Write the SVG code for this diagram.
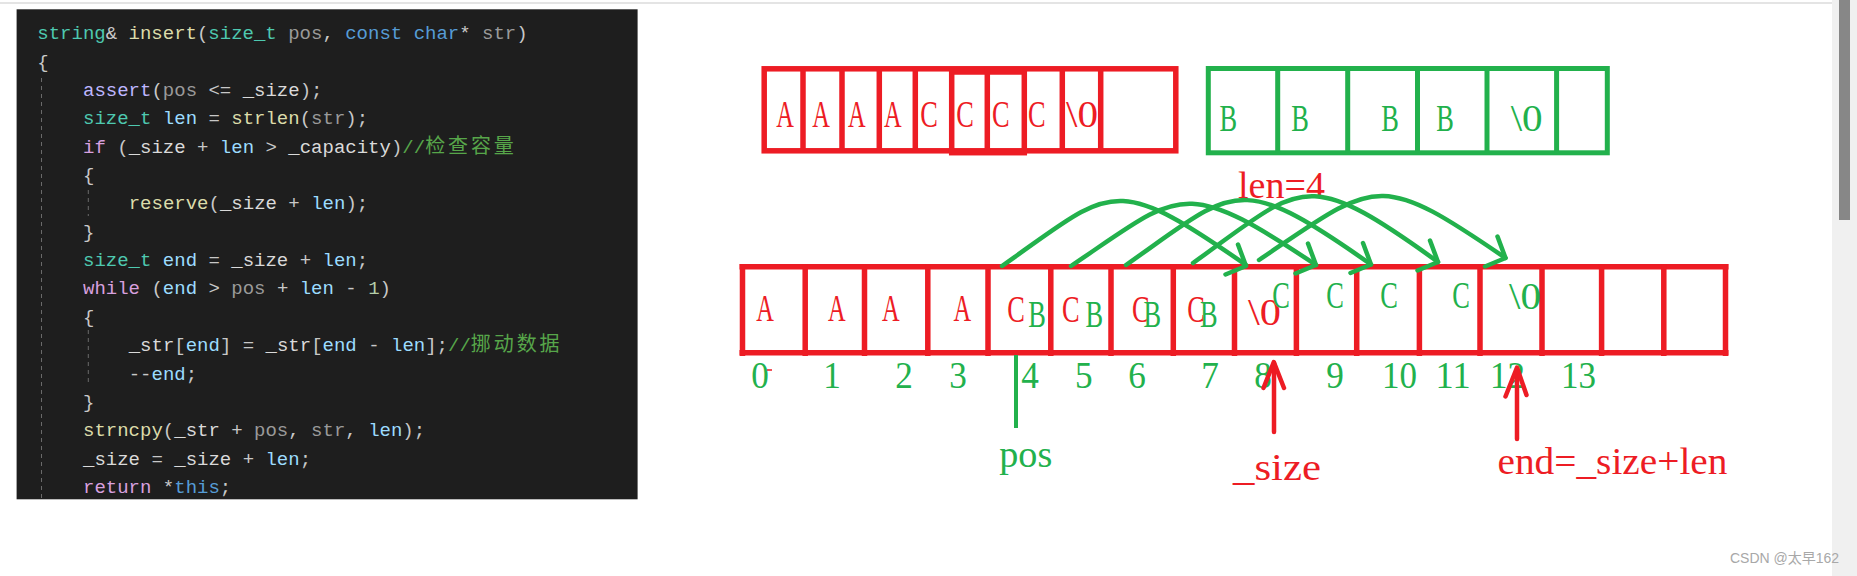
<svg xmlns="http://www.w3.org/2000/svg" width="1857" height="576" viewBox="0 0 1857 576">
<defs>
<style>
.code{font-family:"Liberation Mono",monospace;font-size:19px;fill:#c8c8c8}
.ty{fill:#4ec9b0}.fn{fill:#dcdcaa}.pa{fill:#9a9a9a}.kw{fill:#569cd6}.ct{fill:#d8a0df}.mc{fill:#beb7ff}.lv{fill:#9cdcfe}.mb{fill:#dadada}.cm{fill:#57a64a}.nu{fill:#b5cea8}
.cj{font-family:"Noto Sans CJK SC",sans-serif;font-size:20px;letter-spacing:2.9px}
.guide{stroke:#6a6a6a;stroke-width:1;stroke-dasharray:4 4}
.rb{fill:none;stroke:#ed1c24;stroke-width:5.5}
.gb{fill:none;stroke:#22b14c;stroke-width:5}
.arc{fill:none;stroke:#22b14c;stroke-width:4.5;stroke-linecap:round;stroke-linejoin:round}
.ra{fill:none;stroke:#ed1c24;stroke-width:4.5;stroke-linecap:round;stroke-linejoin:round}
.pt{font-family:"Liberation Serif",serif;font-size:37px}
.tr{fill:#ed1c24}.tg{fill:#22b14c}
</style>
</defs>
<rect x="0" y="0" width="1857" height="576" fill="#ffffff"/>
<rect x="0" y="2" width="1832" height="2" fill="#e4e4e4"/>
<rect x="1832" y="0" width="25" height="576" fill="#f0f0f0"/>
<rect x="1839" y="0" width="11" height="220" fill="#878787"/>

<g id="code-panel">
<rect x="16.6" y="9.3" width="621" height="490" fill="#1e1e1e"/>
<line class="guide" x1="41.5" y1="78" x2="41.5" y2="499"/>
<line class="guide" x1="88.3" y1="190" x2="88.3" y2="216"/>
<line class="guide" x1="88.3" y1="330" x2="88.3" y2="384"/>
<g class="code" xml:space="preserve">
<text x="37.3" y="39.3"><tspan class="ty">string</tspan>&amp; <tspan class="fn">insert</tspan>(<tspan class="ty">size_t</tspan> <tspan class="pa">pos</tspan>, <tspan class="kw">const</tspan> <tspan class="kw">char</tspan>* <tspan class="pa">str</tspan>)</text>
<text x="37.3" y="67.65">{</text>
<text x="83" y="96"><tspan class="mc">assert</tspan>(<tspan class="pa">pos</tspan> &lt;= <tspan class="mb">_size</tspan>);</text>
<text x="83" y="124.35"><tspan class="ty">size_t</tspan> <tspan class="lv">len</tspan> = <tspan class="fn">strlen</tspan>(<tspan class="pa">str</tspan>);</text>
<text x="83" y="152.7"><tspan class="ct">if</tspan> (<tspan class="mb">_size</tspan> + <tspan class="lv">len</tspan> &gt; <tspan class="mb">_capacity</tspan>)<tspan class="cm">//</tspan><tspan class="cm cj">检查容量</tspan></text>
<text x="83" y="181.05">{</text>
<text x="128.7" y="209.4"><tspan class="fn">reserve</tspan>(<tspan class="mb">_size</tspan> + <tspan class="lv">len</tspan>);</text>
<text x="83" y="237.75">}</text>
<text x="83" y="266.1"><tspan class="ty">size_t</tspan> <tspan class="lv">end</tspan> = <tspan class="mb">_size</tspan> + <tspan class="lv">len</tspan>;</text>
<text x="83" y="294.45"><tspan class="ct">while</tspan> (<tspan class="lv">end</tspan> &gt; <tspan class="pa">pos</tspan> + <tspan class="lv">len</tspan> - <tspan class="nu">1</tspan>)</text>
<text x="83" y="322.8">{</text>
<text x="128.7" y="351.15"><tspan class="mb">_str</tspan>[<tspan class="lv">end</tspan>] = <tspan class="mb">_str</tspan>[<tspan class="lv">end</tspan> - <tspan class="lv">len</tspan>];<tspan class="cm">//</tspan><tspan class="cm cj">挪动数据</tspan></text>
<text x="128.7" y="379.5">--<tspan class="lv">end</tspan>;</text>
<text x="83" y="407.85">}</text>
<text x="83" y="436.2"><tspan class="fn">strncpy</tspan>(<tspan class="mb">_str</tspan> + <tspan class="pa">pos</tspan>, <tspan class="pa">str</tspan>, <tspan class="lv">len</tspan>);</text>
<text x="83" y="464.55"><tspan class="mb">_size</tspan> = <tspan class="mb">_size</tspan> + <tspan class="lv">len</tspan>;</text>
<text x="83" y="492.9"><tspan class="ct">return</tspan> *<tspan class="kw">this</tspan>;</text>
</g>
</g>

<g id="top-red-array">
<rect class="rb" x="764.2" y="68.8" width="411.6" height="82"/>
<rect class="rb" x="951.7" y="72" width="72.6" height="80.7"/>
<path class="rb" d="M803 68.8V150.8M842 68.8V150.8M879.3 68.8V150.8M915.3 68.8V150.8M987.3 68.8V150.8M1062.3 68.8V150.8M1100.7 68.8V150.8"/>
<g class="pt tr">
<text x="776.2" y="127" textLength="17.6" lengthAdjust="spacingAndGlyphs">A</text>
<text x="812.2" y="127" textLength="17.6" lengthAdjust="spacingAndGlyphs">A</text>
<text x="847.9" y="127" textLength="17.6" lengthAdjust="spacingAndGlyphs">A</text>
<text x="883.9" y="127" textLength="17.6" lengthAdjust="spacingAndGlyphs">A</text>
<text x="920.2" y="127" textLength="17.6" lengthAdjust="spacingAndGlyphs">C</text>
<text x="956.2" y="127" textLength="17.6" lengthAdjust="spacingAndGlyphs">C</text>
<text x="991.9" y="127" textLength="17.6" lengthAdjust="spacingAndGlyphs">C</text>
<text x="1027.9" y="127" textLength="17.6" lengthAdjust="spacingAndGlyphs">C</text>
<text x="1066" y="127" textLength="32" lengthAdjust="spacingAndGlyphs">\0</text>
</g>
</g>

<g id="top-green-array">
<rect class="gb" x="1208.3" y="68.5" width="399" height="84.3"/>
<path class="gb" d="M1277.7 68.5V152.8M1347.7 68.5V152.8M1417.5 68.5V152.8M1487 68.5V152.8M1556.6 68.5V152.8"/>
<g class="pt tg">
<text x="1219.5" y="131" textLength="17.6" lengthAdjust="spacingAndGlyphs">B</text>
<text x="1291.2" y="131" textLength="17.6" lengthAdjust="spacingAndGlyphs">B</text>
<text x="1381.2" y="131" textLength="17.6" lengthAdjust="spacingAndGlyphs">B</text>
<text x="1436.2" y="131" textLength="17.6" lengthAdjust="spacingAndGlyphs">B</text>
<text x="1510.7" y="131" textLength="32" lengthAdjust="spacingAndGlyphs">\0</text>
</g>
</g>

<g id="len-label">
<text class="pt tr" x="1238" y="197.5" textLength="87" lengthAdjust="spacingAndGlyphs">len=4</text>
</g>

<g id="main-array">
<path class="rb" d="M739.5 266.7H1728.5M739.5 352.8H1728.5"/>
<path class="rb" d="M742.5 264V356M805.2 264V356M864.5 264V356M927.8 264V356M988 264V356M1050.8 264V356M1111 264V356M1173.3 264V356M1234.5 264V356M1296.4 264V356M1356.7 264V356M1419.4 264V356M1480 264V356M1542 264V356M1601.6 264V356M1663.8 264V356M1725.5 264V356"/>
<g class="pt tr">
<text x="756.2" y="321" textLength="17.6" lengthAdjust="spacingAndGlyphs">A</text>
<text x="827.9" y="321" textLength="17.6" lengthAdjust="spacingAndGlyphs">A</text>
<text x="881.9" y="321" textLength="17.6" lengthAdjust="spacingAndGlyphs">A</text>
<text x="953.5" y="321" textLength="17.6" lengthAdjust="spacingAndGlyphs">A</text>
<text x="1007.2" y="321.5" textLength="17.6" lengthAdjust="spacingAndGlyphs">C</text>
<text x="1062" y="321.5" textLength="17.6" lengthAdjust="spacingAndGlyphs">C</text>
<text x="1131.9" y="321.5" textLength="17.6" lengthAdjust="spacingAndGlyphs">C</text>
<text x="1187.2" y="321.5" textLength="17.6" lengthAdjust="spacingAndGlyphs">C</text>
<text x="1248" y="325" textLength="33" lengthAdjust="spacingAndGlyphs">\0</text>
</g>
<g class="pt tg">
<text x="1028.2" y="326.5" textLength="17.6" lengthAdjust="spacingAndGlyphs">B</text>
<text x="1085.5" y="326.5" textLength="17.6" lengthAdjust="spacingAndGlyphs">B</text>
<text x="1143.4" y="326.5" textLength="17.6" lengthAdjust="spacingAndGlyphs">B</text>
<text x="1199.9" y="326.5" textLength="17.6" lengthAdjust="spacingAndGlyphs">B</text>
<text x="1272.2" y="308.3" textLength="17.6" lengthAdjust="spacingAndGlyphs">C</text>
<text x="1326.2" y="308.3" textLength="17.6" lengthAdjust="spacingAndGlyphs">C</text>
<text x="1380.2" y="308.3" textLength="17.6" lengthAdjust="spacingAndGlyphs">C</text>
<text x="1452.2" y="308.3" textLength="17.6" lengthAdjust="spacingAndGlyphs">C</text>
<text x="1509" y="309" textLength="32" lengthAdjust="spacingAndGlyphs">\0</text>
</g>
<g class="pt tg">
<text x="751.2" y="388" textLength="17.6" lengthAdjust="spacingAndGlyphs">0</text>
<text x="823.2" y="388" textLength="17.6" lengthAdjust="spacingAndGlyphs">1</text>
<text x="895.2" y="388" textLength="17.6" lengthAdjust="spacingAndGlyphs">2</text>
<text x="949.2" y="388" textLength="17.6" lengthAdjust="spacingAndGlyphs">3</text>
<text x="1021.2" y="388" textLength="17.6" lengthAdjust="spacingAndGlyphs">4</text>
<text x="1074.9" y="388" textLength="17.6" lengthAdjust="spacingAndGlyphs">5</text>
<text x="1128.2" y="388" textLength="17.6" lengthAdjust="spacingAndGlyphs">6</text>
<text x="1201.2" y="388" textLength="17.6" lengthAdjust="spacingAndGlyphs">7</text>
<text x="1254.2" y="388" textLength="17.6" lengthAdjust="spacingAndGlyphs">8</text>
<text x="1326.2" y="388" textLength="17.6" lengthAdjust="spacingAndGlyphs">9</text>
<text x="1382" y="388" textLength="35" lengthAdjust="spacingAndGlyphs">10</text>
<text x="1435.6" y="388" textLength="35" lengthAdjust="spacingAndGlyphs">11</text>
<text x="1490" y="388" textLength="35" lengthAdjust="spacingAndGlyphs">12</text>
<text x="1561" y="388" textLength="35" lengthAdjust="spacingAndGlyphs">13</text>
</g>
<line x1="767" y1="370" x2="772" y2="370" stroke="#ed1c24" stroke-width="1.5"/>
</g>

<g id="pos-label">
<text class="pt tg" x="999.3" y="467" textLength="53" lengthAdjust="spacingAndGlyphs">pos</text>
</g>
<g id="size-label">
<text class="pt tr" x="1233" y="480" textLength="88" lengthAdjust="spacingAndGlyphs">_size</text>
</g>
<g id="end-label">
<text class="pt tr" x="1497.5" y="474" textLength="230" lengthAdjust="spacingAndGlyphs">end=_size+len</text>
</g>

<g id="connectors">
<path class="arc" d="M1002 266C1112 189 1111 170.5 1246 265"/>
<path class="arc" d="M1071 266C1181 192 1181 174.5 1316 265"/>
<path class="arc" d="M1126 265C1236 188 1236 169.5 1371 264.5"/>
<path class="arc" d="M1193 263C1303 184.5 1303 164.5 1438 262"/>
<path class="arc" d="M1259 260C1377 180 1377 170 1505.5 258"/>
<polyline class="arc" points="1238,244.5 1246,266 1225.5,274.5"/>
<polyline class="arc" points="1308,243.5 1316,265 1295.5,273.5"/>
<polyline class="arc" points="1363,243 1371,264.5 1350.5,273"/>
<polyline class="arc" points="1430,240.5 1438,262 1417.5,270.5"/>
<polyline class="arc" points="1497.5,236.5 1505.5,258 1485,266.5"/>
<line x1="1016" y1="355" x2="1016" y2="428" stroke="#22b14c" stroke-width="4"/>
<line class="ra" x1="1274" y1="432" x2="1274" y2="363"/>
<polyline class="ra" points="1263.5,388 1273.8,362 1284,388"/>
<line class="ra" x1="1517" y1="439" x2="1517" y2="369"/>
<polyline class="ra" points="1505.5,396.5 1517,367.5 1526.5,395"/>
</g>

<text x="1730" y="563" font-family="Liberation Sans, Noto Sans CJK SC, sans-serif" font-size="14" fill="#a8a8a8">CSDN @太早162</text>
</svg>
